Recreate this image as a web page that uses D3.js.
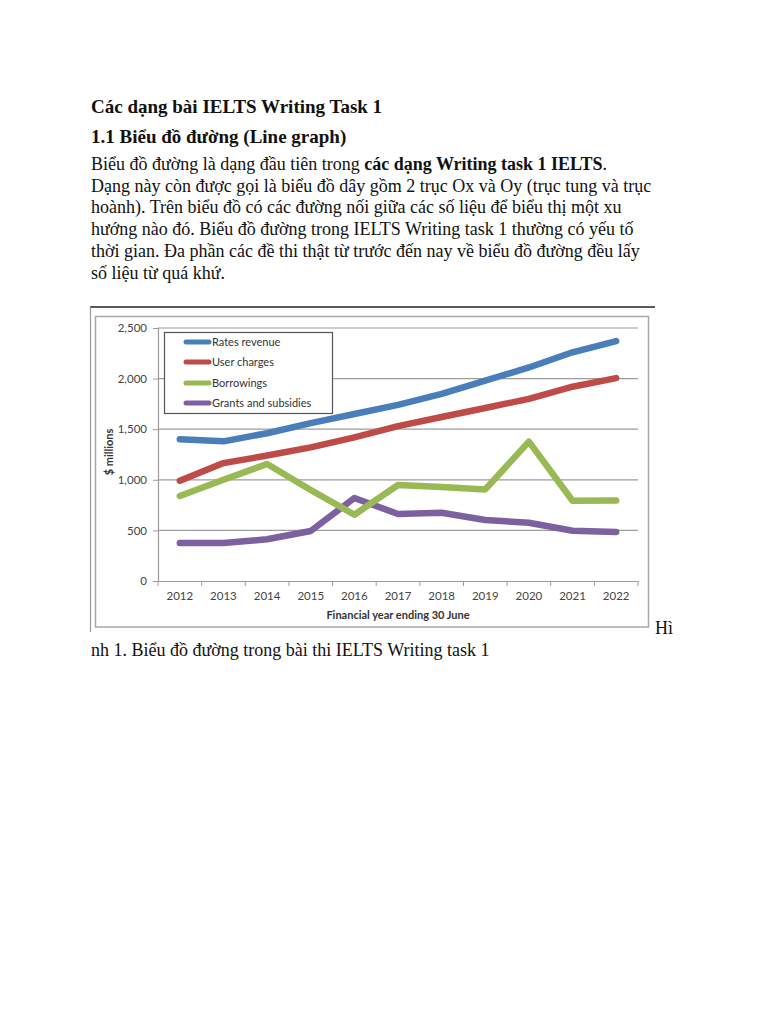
<!DOCTYPE html>
<html><head><meta charset="utf-8">
<script src="https://cdn.jsdelivr.net/npm/d3@7"></script>
<style>
html,body{margin:0;padding:0;background:#fff;}
svg{display:block;}
</style></head>
<body>
<svg id="page" width="768" height="1024"></svg>
<script>
const years = ["2012","2013","2014","2015","2016","2017","2018","2019","2020","2021","2022"];
const ratesRevenue = [1400,1380,1460,1560,1650,1740,1850,1980,2110,2260,2370];
const userCharges = [990,1165,1240,1320,1420,1530,1620,1710,1800,1920,2005];
const borrowings = [840,1000,1156,900,655,949,930,905,1377,793,795];
const grantsSubsidies = [375,375,412,494,820,662,675,603,576,497,484];
const seriesNames = ["Rates revenue","User charges","Borrowings","Grants and subsidies"];
const yTicks = [0,500,1000,1500,2000,2500];
const seriesColors = ["#4a7ebb","#be4b48","#98b954","#7d60a0"];

const svg = d3.select("#page");
svg.append("rect").attr("width",768).attr("height",1024).attr("fill","#fff");

// ---- Document text ----
const serif = "'Liberation Serif','Times New Roman',serif";
const doc = svg.append("g").attr("font-family",serif).attr("font-size",18).attr("fill","#111");
doc.append("text").attr("x",91).attr("y",113).attr("font-size",19).attr("font-weight","bold").text("Các dạng bài IELTS Writing Task 1");
doc.append("text").attr("x",91).attr("y",143).attr("font-size",19).attr("font-weight","bold").text("1.1 Biểu đồ đường (Line graph)");
const bodyLines = [
  [["Biểu đồ đường là dạng đầu tiên trong ",false],["các dạng Writing task 1 IELTS",true],[".",false]],
  [["Dạng này còn được gọi là biểu đồ dây gồm 2 trục Ox và Oy (trục tung và trục",false]],
  [["hoành). Trên biểu đồ có các đường nối giữa các số liệu để biểu thị một xu",false]],
  [["hướng nào đó. Biểu đồ đường trong IELTS Writing task 1 thường có yếu tố",false]],
  [["thời gian. Đa phần các đề thi thật từ trước đến nay về biểu đồ đường đều lấy",false]],
  [["số liệu từ quá khứ.",false]]
];
const bodyY = [170,192,213,235,257,279];
bodyLines.forEach((segs,i)=>{
  const t = doc.append("text").attr("x",91).attr("y",bodyY[i]);
  segs.forEach(s=>t.append("tspan").attr("font-weight",s[1]?"bold":"normal").text(s[0]));
});
doc.append("text").attr("x",655).attr("y",634).text("Hì");
doc.append("text").attr("x",91).attr("y",656).text("nh 1. Biểu đồ đường trong bài thi IELTS Writing task 1");

// ---- Picture frame ----
svg.append("line").attr("x1",90).attr("x2",655).attr("y1",307).attr("y2",307).attr("stroke","#222").attr("stroke-width",1.5);
svg.append("line").attr("x1",90.5).attr("x2",90.5).attr("y1",307).attr("y2",632).attr("stroke","#999").attr("stroke-width",1.2);
svg.append("rect").attr("x",95.5).attr("y",316.5).attr("width",553).attr("height",310.5)
  .attr("fill","#fff").attr("stroke","#a8a8a8").attr("stroke-width",1.5);

// ---- Chart ----
const sans = "Lato,'Open Sans',sans-serif";
const x = d3.scaleBand().domain(years).range([158,638]).paddingInner(0).paddingOuter(0);
const y = d3.scaleLinear().domain([0,2500]).range([581,328]);
const cx = d => x(d) + x.bandwidth()/2;

const chart = svg.append("g").attr("font-family",sans);

// grid
chart.append("g").selectAll("line").data(yTicks.filter(v=>v>0)).join("line")
  .attr("x1",158).attr("x2",638).attr("y1",d=>y(d)).attr("y2",d=>y(d))
  .attr("stroke","#9c9c9c").attr("stroke-width",1.2);

// y axis
const yAxis = chart.append("g").attr("transform","translate(158,0)")
  .call(d3.axisLeft(y).tickValues(yTicks).tickFormat(d3.format(",")).tickSize(5).tickPadding(6));
yAxis.select(".domain").attr("stroke","#9c9c9c").attr("stroke-width",1.2);
yAxis.selectAll(".tick line").attr("stroke","#9c9c9c");
yAxis.selectAll("text").attr("font-size",11.5).attr("fill","#444").attr("font-family",sans);

// x axis
const xAxis = chart.append("g").attr("transform","translate(0,581)")
  .call(d3.axisBottom(x).tickSize(0).tickPadding(11));
xAxis.select(".domain").attr("stroke","#9c9c9c").attr("stroke-width",1.2);
xAxis.selectAll("text").attr("font-size",11.5).attr("fill","#444").attr("font-family",sans);
xAxis.append("g").selectAll("line").data(years.concat(["end"])).join("line")
  .attr("x1",(d,i)=>x.range()[0]+i*x.step()).attr("x2",(d,i)=>x.range()[0]+i*x.step())
  .attr("y1",0).attr("y2",5).attr("stroke","#9c9c9c");

// axis titles
chart.append("text").attr("x",398).attr("y",619).attr("text-anchor","middle")
  .attr("font-size",11).attr("font-weight","bold").attr("fill","#333").text("Financial year ending 30 June");
chart.append("text").attr("transform","translate(113,452) rotate(-90)").attr("text-anchor","middle")
  .attr("font-size",11).attr("font-weight","bold").attr("fill","#333").text("$ millions");

// lines
const allSeries = [ratesRevenue,userCharges,borrowings,grantsSubsidies];
const line = d3.line().x((d,i)=>cx(years[i])).y(d=>y(d));
chart.append("g").selectAll("path").data(allSeries.slice().reverse()).join("path")
  .attr("d",line).attr("fill","none")
  .attr("stroke",(d,i)=>seriesColors[allSeries.length-1-i])
  .attr("stroke-width",6.5).attr("stroke-linejoin","round").attr("stroke-linecap","round");

// legend
const lg = chart.append("g");
lg.append("rect").attr("x",164.5).attr("y",332.5).attr("width",168).attr("height",81)
  .attr("fill","#fff").attr("stroke","#555").attr("stroke-width",1.2);
const legY = [342,362,383,403];
seriesNames.forEach((n,i)=>{
  lg.append("line").attr("x1",186).attr("x2",209).attr("y1",legY[i]).attr("y2",legY[i])
    .attr("stroke",seriesColors[i]).attr("stroke-width",5).attr("stroke-linecap","round");
  lg.append("text").attr("x",212).attr("y",legY[i]).attr("dy","0.35em")
    .attr("font-size",11).attr("fill","#333").text(n);
});
</script>
</body></html>
